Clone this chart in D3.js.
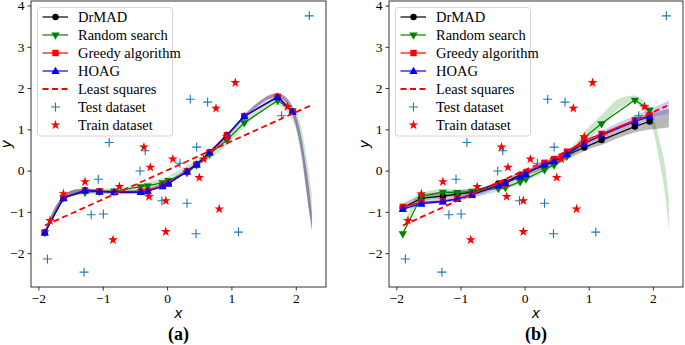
<!DOCTYPE html>
<html><head><meta charset="utf-8">
<script src="https://cdn.jsdelivr.net/npm/d3@7"></script>
<style>body{margin:0;background:#fff}svg{display:block}
.serif{font-family:"Liberation Serif","Times New Roman",serif}
.ital{font-family:"DejaVu Sans",sans-serif;font-style:italic}
</style>
</head><body>
<svg id="c" width="685" height="345"></svg>
<script>
// ---------- data ----------
const xs = [-1.9, -1.61, -1.275, -1.05, -0.82, -0.41, -0.30, -0.07, 0.02, 0.31, 0.46, 0.66, 0.93, 1.20, 1.72, 1.95];

const drmadA  = [-1.50,-0.66,-0.48,-0.50,-0.52,-0.52,-0.50,-0.37,-0.31,-0.02,0.15,0.44,0.86,1.32,1.79,1.43];
const randomA = [-1.50,-0.65,-0.52,-0.50,-0.50,-0.39,-0.37,-0.29,-0.24,-0.05,0.14,0.40,0.74,1.16,1.70,1.45];
const greedyA = [-1.50,-0.66,-0.48,-0.50,-0.52,-0.51,-0.49,-0.37,-0.31,-0.02,0.15,0.44,0.86,1.32,1.79,1.43];
const hoagA   = [-1.50,-0.67,-0.48,-0.51,-0.52,-0.52,-0.50,-0.38,-0.31,-0.02,0.15,0.44,0.86,1.32,1.78,1.42];

const drmadB  = [-0.90,-0.67,-0.62,-0.57,-0.52,-0.31,-0.28,-0.10,-0.03,0.12,0.22,0.38,0.56,0.74,1.07,1.19];
const randomB = [-1.53,-0.62,-0.52,-0.53,-0.50,-0.43,-0.41,-0.27,-0.20,0.02,0.14,0.35,0.80,1.14,1.71,1.47];
const greedyB = [-0.88,-0.77,-0.74,-0.67,-0.59,-0.35,-0.31,-0.13,-0.06,0.19,0.28,0.46,0.73,0.89,1.22,1.34];
const hoagB   = [-0.93,-0.80,-0.75,-0.69,-0.58,-0.36,-0.30,-0.15,-0.08,0.16,0.23,0.40,0.66,0.86,1.19,1.31];

const lsqX = [-1.9, 2.22];
const lsqY = [-1.33, 1.57];

const testX = [-1.86,-1.29,-1.18,-1.07,-0.99,-0.90,-0.42,-0.34,-0.08,0.20,0.31,0.36,0.45,0.46,0.63,1.11,1.78,2.21];
const testY = [-2.14,-2.46,-1.07,-0.21,-1.05,0.68,-0.01,0.48,-0.73,0.18,-0.79,1.73,-1.53,0.57,1.66,-1.49,1.33,3.75];

const trainX = [-1.82,-1.61,-1.275,-0.84,-0.74,-0.36,-0.28,-0.26,-0.02,-0.02,0.09,0.50,0.57,0.76,0.81,0.93,1.06,1.87];
const trainY = [-1.21,-0.56,-0.27,-1.68,-0.39,0.57,-0.63,0.08,-0.73,-1.48,0.28,-0.17,0.28,1.51,-0.93,0.82,2.13,1.55];

// uncertainty bands: x, lower, upper
const bandX_A = [-1.9,-1.75,-1.6,-1.4,-1.2,-1.0,-0.8,-0.6,-0.4,-0.2,0.0,0.2,0.4,0.6,0.8,1.0,1.2,1.4,1.6,1.7,1.8,1.9,2.0,2.1,2.15,2.2,2.25];
const purpleLoA = [-1.62,-1.05,-0.72,-0.55,-0.53,-0.55,-0.56,-0.56,-0.54,-0.46,-0.34,-0.15,0.05,0.30,0.60,0.92,1.27,1.55,1.74,1.77,1.72,1.52,1.10,0.30,-0.30,-0.90,-1.45];
const purpleHiA = [-1.45,-0.92,-0.60,-0.45,-0.44,-0.47,-0.48,-0.48,-0.46,-0.38,-0.26,-0.07,0.13,0.38,0.68,1.00,1.35,1.64,1.84,1.87,1.83,1.68,1.35,0.70,0.20,-0.35,-1.05];
const greenLoA  = [-1.60,-1.05,-0.72,-0.58,-0.57,-0.56,-0.53,-0.50,-0.45,-0.38,-0.30,-0.15,0.00,0.22,0.45,0.75,1.05,1.35,1.58,1.60,1.52,1.35,1.00,0.20,-0.35,-0.90,-1.40];
const greenHiA  = [-1.45,-0.90,-0.58,-0.45,-0.44,-0.44,-0.41,-0.38,-0.32,-0.24,-0.15,0.03,0.20,0.42,0.70,1.00,1.30,1.55,1.75,1.78,1.72,1.58,1.45,0.95,0.50,0.00,-0.60];

const bandX_B = [-1.9,-1.75,-1.6,-1.3,-1.0,-0.7,-0.4,-0.1,0.2,0.5,0.8,1.0,1.2,1.48,1.7,1.85,2.0,2.1,2.2,2.25];
const greyLoB  = [-1.00,-0.85,-0.75,-0.68,-0.62,-0.55,-0.38,-0.18,-0.02,0.15,0.38,0.52,0.62,0.80,0.92,0.97,1.00,1.02,1.04,1.05];
const greyHiB  = [-0.80,-0.68,-0.58,-0.52,-0.47,-0.42,-0.25,-0.05,0.12,0.30,0.60,0.75,0.90,1.10,1.22,1.30,1.38,1.43,1.48,1.50];
const blueLoB  = [-0.98,-0.90,-0.84,-0.78,-0.72,-0.60,-0.40,-0.20,0.05,0.26,0.50,0.68,0.83,1.05,1.17,1.24,1.30,1.33,1.36,1.38];
const blueHiB  = [-0.84,-0.78,-0.74,-0.68,-0.62,-0.50,-0.30,-0.10,0.15,0.36,0.62,0.78,0.95,1.18,1.32,1.42,1.52,1.59,1.66,1.70];
const greenLoB = [-1.60,-1.00,-0.70,-0.62,-0.62,-0.60,-0.50,-0.35,-0.12,0.12,0.45,0.75,1.05,1.51,1.65,1.45,1.00,0.25,-0.70,-1.48];
const greenHiB = [-1.45,-0.80,-0.55,-0.45,-0.45,-0.42,-0.35,-0.20,0.05,0.28,0.68,1.05,1.35,1.75,1.82,1.70,1.35,0.75,0.00,-0.70];

const xTicks = [-2,-1,0,1,2];
const yTicks = [-2,-1,0,1,2,3,4];
const legendLabels = ["DrMAD","Random search","Greedy algorithm","HOAG","Least squares","Test dataset","Train dataset"];
const captions = ["(a)","(b)"];

// ---------- drawing ----------
const svg = d3.select("#c");
const C = {black:"#000000", green:"#008000", red:"#ff0000", blue:"#0000ff", test:"#1f77b4"};
const zip = (a,b)=>a.map((v,i)=>[v,b[i]]);
const fmt = v => (v<0?"\u2212":"")+Math.abs(v);

function marker(g, type, x, y, color){
  if(type==="circle") g.append("circle").attr("cx",x).attr("cy",y).attr("r",3.2).attr("fill",color);
  else if(type==="tdown") g.append("path").attr("d",d3.symbol(d3.symbolTriangle,30)()).attr("transform",`translate(${x},${y}) rotate(180)`).attr("fill",color);
  else if(type==="tup") g.append("path").attr("d",d3.symbol(d3.symbolTriangle,30)()).attr("transform",`translate(${x},${y+0.6})`).attr("fill",color);
  else if(type==="square") g.append("rect").attr("x",x-3.2).attr("y",y-3.2).attr("width",6.4).attr("height",6.4).attr("fill",color);
  else if(type==="plus") g.append("path").attr("d",`M${x-4.5},${y}H${x+4.5}M${x},${y-4.5}V${y+4.5}`).attr("stroke",color).attr("stroke-width",1.1).attr("fill","none");
  else if(type==="star") g.append("path").attr("d",d3.symbol(d3.symbolStar,30)()).attr("transform",`translate(${x},${y})`).attr("fill",color);
}

function panel(opt){
  const x = d3.scaleLinear().domain([-2.115,2.47]).range([opt.left,opt.right]);
  const y = d3.scaleLinear().domain([-2.82,4.11]).range([287,1]);
  const g = svg.append("g");
  const clipId = "clip"+opt.id;
  svg.append("clipPath").attr("id",clipId).append("rect").attr("x",opt.left).attr("y",1).attr("width",opt.right-opt.left).attr("height",286);
  const plot = g.append("g").attr("clip-path",`url(#${clipId})`);

  const area = d3.area().x(d=>x(d[0])).y0(d=>y(d[1])).y1(d=>y(d[2])).curve(d3.curveMonotoneX);
  opt.bands.forEach(b=>{
    plot.append("path").datum(b.xs.map((v,i)=>[v,b.lo[i],b.hi[i]])).attr("d",area)
      .attr("fill",b.color).attr("fill-opacity",b.op).attr("stroke","none");
  });

  const line = d3.line().x(d=>x(d[0])).y(d=>y(d[1]));
  opt.series.forEach(s=>{
    const pts = zip(xs,s.vals);
    plot.append("path").datum(pts).attr("d",line).attr("fill","none").attr("stroke",s.color).attr("stroke-width",1.2);
    pts.forEach(p=>marker(plot,s.type,x(p[0]),y(p[1]),s.color));
  });

  plot.append("path").datum(zip(lsqX,lsqY)).attr("d",line).attr("fill","none")
    .attr("stroke",C.red).attr("stroke-width",1.8).attr("stroke-dasharray","6,3.5");

  zip(testX,testY).forEach(p=>marker(plot,"plus",x(p[0]),y(p[1]),C.test));
  zip(trainX,trainY).forEach(p=>marker(plot,"star",x(p[0]),y(p[1]),C.red));

  // axes
  const ax = g.append("g").attr("transform","translate(0,287)")
    .call(d3.axisBottom(x).tickValues(xTicks).tickFormat(fmt).tickSizeOuter(0).tickSize(3.5).tickPadding(3));
  const ay = g.append("g").attr("transform",`translate(${opt.left},0)`)
    .call(d3.axisLeft(y).tickValues(yTicks).tickFormat(fmt).tickSizeOuter(0).tickSize(3.5).tickPadding(3));
  [ax,ay].forEach(a=>{
    a.attr("font-family",null).attr("font-size",null);
    a.select(".domain").remove();
    a.selectAll("text").attr("class","serif").style("font-size","13.5px").attr("fill","#000");
    a.selectAll("line").attr("stroke","#000").attr("stroke-width",0.8);
  });
  g.append("rect").attr("x",opt.left).attr("y",1).attr("width",opt.right-opt.left).attr("height",286)
    .attr("fill","none").attr("stroke","#000").attr("stroke-width",0.8);

  g.append("text").attr("class","ital").attr("x",(opt.left+opt.right)/2).attr("y",318).attr("text-anchor","middle")
    .style("font-size","14px").text("x");
  g.append("text").attr("class","ital").attr("transform",`translate(${opt.left-20},144) rotate(-90)`).attr("text-anchor","middle")
    .style("font-size","14px").text("y");
  g.append("text").attr("class","serif").attr("x",(opt.left+opt.right)/2).attr("y",340).attr("text-anchor","middle")
    .style("font-weight","bold").style("font-size","18px").text(opt.caption);

  // legend
  const lx = opt.left+6.5, ly = 7.5;
  const lg = g.append("g");
  lg.append("rect").attr("x",lx).attr("y",ly).attr("width",135).attr("height",128.5).attr("rx",3)
    .attr("fill","#fff").attr("fill-opacity",0.85).attr("stroke","#cccccc").attr("stroke-width",0.8);
  const types = [["line","circle",C.black],["line","tdown",C.green],["line","square",C.red],["line","tup",C.blue],["dash",null,C.red],["none","plus",C.test],["none","star",C.red]];
  legendLabels.forEach((lab,i)=>{
    const cy = ly+9.5+i*18;
    const [lt,mt,col] = types[i];
    if(lt==="line") lg.append("line").attr("x1",lx+5).attr("x2",lx+30.5).attr("y1",cy).attr("y2",cy).attr("stroke",col).attr("stroke-width",1.2);
    if(lt==="dash") lg.append("line").attr("x1",lx+5).attr("x2",lx+30.5).attr("y1",cy).attr("y2",cy).attr("stroke",col).attr("stroke-width",1.8).attr("stroke-dasharray","6,3.5");
    if(mt) marker(lg,mt,lx+18,cy,col);
    lg.append("text").attr("class","serif").attr("x",lx+40.5).attr("y",cy+5).style("font-size","14.5px").text(lab);
  });
}

panel({id:"a",left:31,right:326,caption:captions[0],
  bands:[{xs:bandX_A,lo:greenLoA,hi:greenHiA,color:"#2ca02c",op:0.25},
         {xs:bandX_A,lo:purpleLoA,hi:purpleHiA,color:"#6a3d8f",op:0.6}],
  series:[{vals:drmadA,color:C.black,type:"circle"},{vals:randomA,color:C.green,type:"tdown"},
          {vals:greedyA,color:C.red,type:"square"},{vals:hoagA,color:C.blue,type:"tup"}]});
panel({id:"b",left:389,right:683,caption:captions[1],
  bands:[{xs:bandX_B,lo:greenLoB,hi:greenHiB,color:"#2ca02c",op:0.25},
         {xs:bandX_B,lo:greyLoB,hi:greyHiB,color:"#000000",op:0.28},
         {xs:bandX_B,lo:blueLoB,hi:blueHiB,color:"#5555ff",op:0.3}],
  series:[{vals:drmadB,color:C.black,type:"circle"},{vals:randomB,color:C.green,type:"tdown"},
          {vals:greedyB,color:C.red,type:"square"},{vals:hoagB,color:C.blue,type:"tup"}]});
</script>
</body></html>
